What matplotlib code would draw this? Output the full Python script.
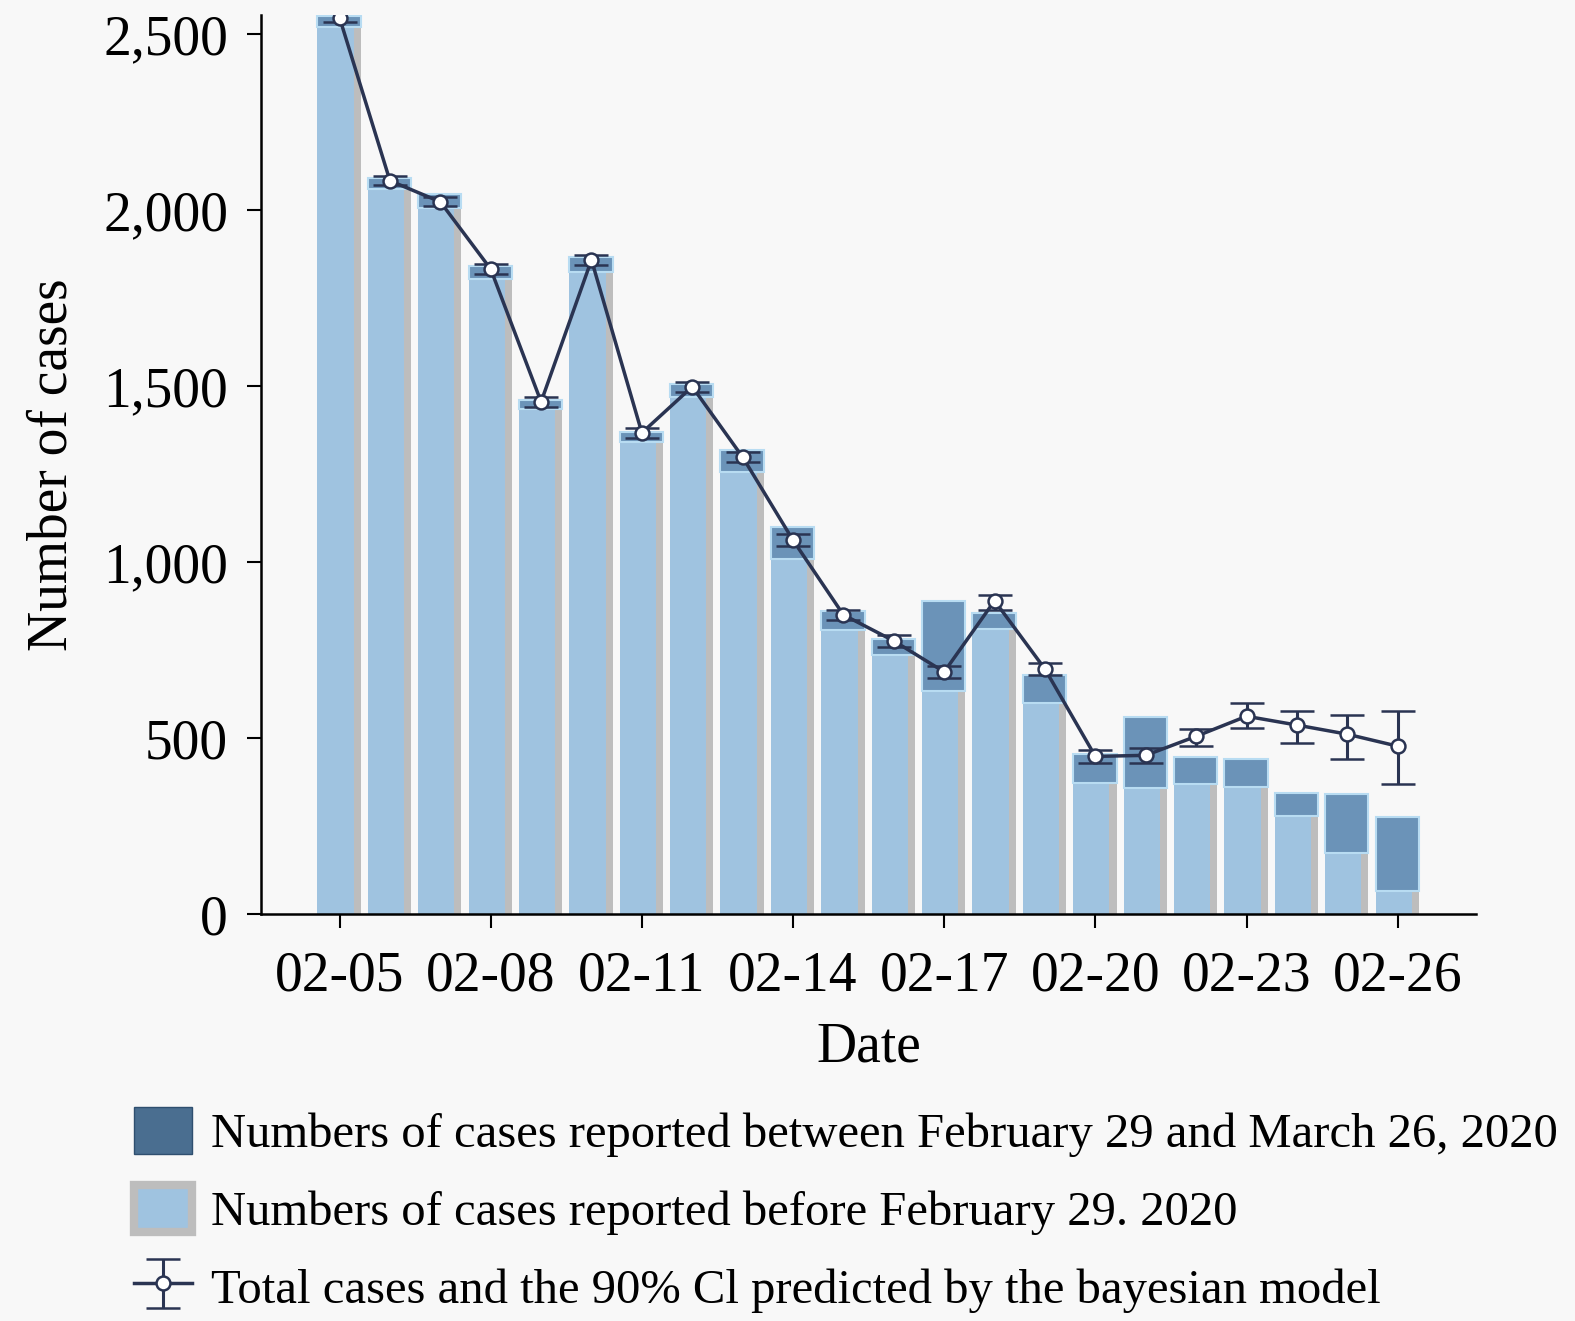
import numpy as np
import matplotlib.pyplot as plt
from matplotlib.patches import Patch

# dates of onset
dates = ["02-05", "02-06", "02-07", "02-08", "02-09", "02-10", "02-11", "02-12",
         "02-13", "02-14", "02-15", "02-16", "02-17", "02-18", "02-19", "02-20",
         "02-21", "02-22", "02-23", "02-24", "02-25", "02-26"]

# cases reported before Feb 29
before = [2520, 2060, 2005, 1805, 1435, 1825, 1340, 1470, 1255, 1010, 808, 735,
          635, 810, 600, 372, 357, 370, 360, 280, 175, 65]
# total cases (reported up to Mar 26)
total = [2550, 2090, 2045, 1840, 1460, 1865, 1370, 1505, 1318, 1100, 862, 780,
         888, 855, 680, 455, 560, 445, 440, 345, 340, 275]

# bayesian prediction with 90% CI
pred = [2546, 2083, 2023, 1832, 1455, 1858, 1367, 1498, 1298, 1062, 850, 776,
        688, 890, 696, 448, 451, 505, 562, 537, 511, 477]
pred_lo = [2533, 2070, 2010, 1818, 1440, 1843, 1352, 1484, 1283, 1045, 835, 760,
           670, 865, 678, 430, 430, 478, 528, 485, 442, 371]
pred_hi = [2558, 2096, 2036, 1846, 1470, 1873, 1382, 1512, 1313, 1080, 865, 792,
           706, 905, 714, 466, 472, 525, 599, 576, 565, 576]

after = np.array(total) - np.array(before)
x = np.arange(len(dates))

plt.rcParams['font.family'] = ['Liberation Serif', 'DejaVu Serif']

fig = plt.figure(figsize=(15.75, 13.21), dpi=100, facecolor='#f8f8f8')
ax = fig.add_axes([0.166, 0.308, 0.771, 0.681])
ax.set_facecolor('#f8f8f8')

light = '#9fc3e0'
grey = '#bdbdbd'
dark = '#6b93b8'

# before-Feb-29 part: grey strip on right, light blue body
ax.bar(x - 0.44, before, width=0.86, align='edge', color=grey, zorder=1)
ax.bar(x - 0.44, before, width=0.72, align='edge', color=light, zorder=2)
# reported later
ax.bar(x - 0.44, after, bottom=before, width=0.86, align='edge', color=dark,
       edgecolor='#b8dcf2', linewidth=1.5, zorder=2)

err = [np.array(pred) - np.array(pred_lo), np.array(pred_hi) - np.array(pred)]
eb = ax.errorbar(x, pred, yerr=err, color='#2a3452', lw=2.5, marker='o', ms=10,
                 mfc='white', mec='#2a3452', mew=1.8, ecolor='#2a3452',
                 elinewidth=2.2, capsize=12, capthick=2.2, zorder=5)

ax.set_xlim(-1.55, 22.55)
ax.set_ylim(0, 2555)
ax.set_xticks(x[::3])
ax.set_xticklabels(dates[::3])
ax.set_yticks([0, 500, 1000, 1500, 2000, 2500])
ax.set_yticklabels(['0', '500', '1,000', '1,500', '2,000', '2,500'])
ax.tick_params(labelsize=40, length=10, width=1.5, direction='out')
ax.tick_params(axis='x', pad=16)
ax.tick_params(axis='y', pad=14)
for s in ['top', 'right']:
    ax.spines[s].set_visible(False)
for s in ['left', 'bottom']:
    ax.spines[s].set_linewidth(1.8)

ax.set_xlabel('Date', fontsize=40, labelpad=14)
ax.set_ylabel('Number of cases', fontsize=40, labelpad=18)

handles = [Patch(facecolor='#4a6e90', edgecolor='#2f4f6f'),
           Patch(facecolor=light, edgecolor=grey, linewidth=6),
           eb]
labels = ['Numbers of cases reported between February 29 and March 26, 2020',
          'Numbers of cases reported before February 29. 2020',
          'Total cases and the 90% Cl predicted by the bayesian model']
fig.legend(handles, labels, loc='upper left', bbox_to_anchor=(0.057, 0.195),
           frameon=False, fontsize=35, handlelength=1.2, handleheight=1.1,
           labelspacing=0.58, handletextpad=0.4)

fig.savefig('out.png', dpi=100, facecolor=fig.get_facecolor())
